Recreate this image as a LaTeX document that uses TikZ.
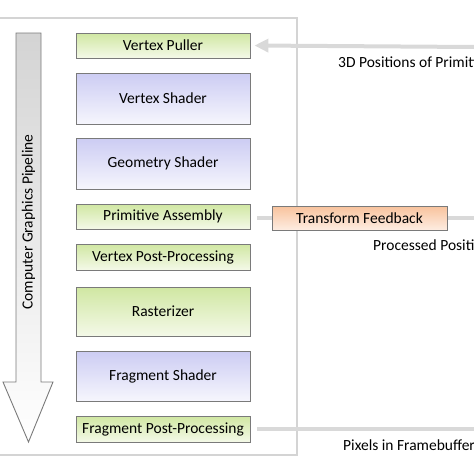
\documentclass[tikz,border=0pt]{standalone}
\usepackage{fontspec}
\setmainfont{Carlito}
\usetikzlibrary{arrows.meta,shadows}
\definecolor{framegray}{HTML}{D4D4D4}
\definecolor{linegray}{HTML}{D9D9D9}
\definecolor{boxborder}{HTML}{7A7A7A}
\definecolor{greentop}{HTML}{D0E7A2}
\definecolor{greenbot}{HTML}{F4F9E8}
\definecolor{bluetop}{HTML}{CCCCF3}
\definecolor{bluebot}{HTML}{F6F6FD}
\definecolor{orangetop}{HTML}{F8C29C}
\definecolor{orangebot}{HTML}{FEEDE2}
\tikzset{
  stage/.style={draw=boxborder, line width=0.9pt, minimum width=174pt, inner sep=0pt,
    font=\fontsize{15.5}{18}\selectfont, text=black,
    drop shadow={shadow xshift=0.8pt, shadow yshift=-0.8pt, fill=black!35, opacity=0.5}},
  greenbox/.style={stage, top color=greentop, bottom color=greenbot},
  bluebox/.style={stage, top color=bluetop, bottom color=bluebot},
  orangebox/.style={stage, minimum width=175pt, top color=orangetop, bottom color=orangebot},
  feed/.style={draw=linegray, line width=4pt},
  sidelabel/.style={anchor=west, inner sep=0pt, font=\fontsize{15.5}{18}\selectfont}
}
\begin{document}
\begin{tikzpicture}[x=1pt,y=-1pt]
\useasboundingbox (0,0) rectangle (474,474);
\clip (0,0) rectangle (474,474);
% frame
\draw[framegray, line width=2pt] (-5,18) rectangle (297,455);
% feed lines
\coordinate (in1) at (474,47);
\coordinate (mid0) at (257,218);
\coordinate (mid1) at (474,218);
\coordinate (out0) at (257,429);
\coordinate (out1) at (474,429);
\draw[feed] (mid0) -- (mid1);
\draw[feed] (out0) -- (out1);
% big arrow
\shade[top color=black!17, bottom color=white, draw=boxborder, line width=0.9pt]
  (16,33) -- (41,33) -- (41,382) -- (53,382) -- (28.5,442) -- (3,382) -- (16,382) -- cycle;
\node[rotate=90, font=\fontsize{15.5}{18}\selectfont] (pipe) at (28.5,222) {Computer Graphics Pipeline};
% stages
\node[greenbox, minimum height=25pt] (vp) at (163,45.5) {Vertex Puller};
\node[bluebox, minimum height=51pt] (vs) at (163,98.5) {Vertex Shader};
\node[bluebox, minimum height=51pt] (gs) at (163,163.5) {Geometry Shader};
\node[greenbox, minimum height=25pt] (pa) at (163,216.5) {Primitive Assembly};
\node[greenbox, minimum height=26pt] (vpp) at (163,257) {Vertex Post-Processing};
\node[greenbox, minimum height=49pt] (ra) at (163,311.5) {Rasterizer};
\node[bluebox, minimum height=50pt] (fs) at (163,376) {Fragment Shader};
\node[greenbox, minimum height=26pt] (fpp) at (163,429) {Fragment Post-Processing};
\node[orangebox, minimum height=24pt] (tf) at (359.5,218) {Transform Feedback};
% input arrow
\draw[feed, -{Triangle[length=14pt,width=13pt]}] (in1) -- ([xshift=4pt]vp.east);
% labels
\node[sidelabel] (l1) at (338,62) {3D Positions of Primitives};
\node[sidelabel] (l2) at (373,245) {Processed Positions};
\node[sidelabel] (l3) at (343,445) {Pixels in Framebuffer};
\end{tikzpicture}
\end{document}
